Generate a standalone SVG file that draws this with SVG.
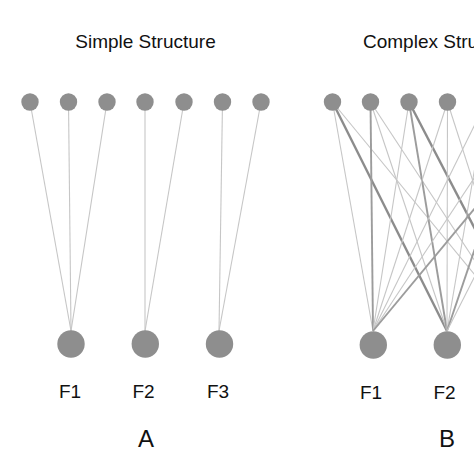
<svg xmlns="http://www.w3.org/2000/svg" width="474" height="474" viewBox="0 0 474 474">
<style>
.item{fill:#8e8e8e}
.fac{fill:#8e8e8e}
.thin{stroke:#c6c6c6;stroke-width:1.1;fill:none}
.thick{stroke:#8c8c8c;stroke-width:2.4;fill:none}
.med{stroke:#9c9c9c;stroke-width:1.9;fill:none}
.t{font-family:"Liberation Sans",Arial,sans-serif;fill:#111}
</style>
<rect width="474" height="474" fill="#fff"/>
<text class="t" x="145.5" y="47.5" font-size="19" text-anchor="middle">Simple Structure</text>
<text class="t" x="363" y="47.5" font-size="19">Complex Structure</text>
<g id="connectors">
  <g id="simple-edges">
    <line class="thin" x1="30" y1="102" x2="71" y2="331"/>
    <line class="thin" x1="68.5" y1="102" x2="71" y2="331"/>
    <line class="thin" x1="107" y1="102" x2="71" y2="331"/>
    <line class="thin" x1="145" y1="102" x2="145" y2="331"/>
    <line class="thin" x1="184" y1="102" x2="145" y2="331"/>
    <line class="thin" x1="222.5" y1="102" x2="219" y2="331"/>
    <line class="thin" x1="261" y1="102" x2="219" y2="331"/>
  </g>
  <g id="complex-edges">
    <line class="thin" x1="332.5" y1="102" x2="373" y2="331"/>
    <line class="thick" x1="332.5" y1="102" x2="447" y2="331"/>
    <line class="thin" x1="332.5" y1="102" x2="521" y2="331"/>
    <line class="med" x1="370.5" y1="102" x2="373" y2="331"/>
    <line class="thin" x1="370.5" y1="102" x2="447" y2="331"/>
    <line class="thin" x1="370.5" y1="102" x2="521" y2="331"/>
    <line class="thin" x1="409" y1="102" x2="373" y2="331"/>
    <line class="med" x1="409" y1="102" x2="447" y2="331"/>
    <line class="thick" x1="409" y1="102" x2="528" y2="331"/>
    <line class="thin" x1="447.5" y1="102" x2="373" y2="331"/>
    <line class="thin" x1="447.5" y1="102" x2="447" y2="331"/>
    <line class="thin" x1="447.5" y1="102" x2="521" y2="331"/>
    <line class="thin" x1="486" y1="102" x2="373" y2="331"/>
    <line class="thin" x1="486" y1="102" x2="447" y2="331"/>
    <line class="thin" x1="524.5" y1="102" x2="373" y2="331"/>
    <line class="med" x1="524.5" y1="102" x2="447" y2="331"/>
    <line class="med" x1="563" y1="102" x2="373" y2="331"/>
    <line class="thin" x1="563" y1="102" x2="447" y2="331"/>
  </g>
</g>
<g id="simple-items">
  <g id="s-i1"><circle class="item" cx="30" cy="102" r="8.7"/></g>
  <g id="s-i2"><circle class="item" cx="68.5" cy="102" r="8.7"/></g>
  <g id="s-i3"><circle class="item" cx="107" cy="102" r="8.7"/></g>
  <g id="s-i4"><circle class="item" cx="145" cy="102" r="8.7"/></g>
  <g id="s-i5"><circle class="item" cx="184" cy="102" r="8.7"/></g>
  <g id="s-i6"><circle class="item" cx="222.5" cy="102" r="8.7"/></g>
  <g id="s-i7"><circle class="item" cx="261" cy="102" r="8.7"/></g>
</g>
<g id="simple-factors">
  <g id="s-f1"><circle class="fac" cx="71" cy="344" r="13.7"/><text class="t" x="70" y="398" font-size="19" text-anchor="middle">F1</text></g>
  <g id="s-f2"><circle class="fac" cx="145.3" cy="344" r="13.7"/><text class="t" x="143.5" y="398" font-size="19" text-anchor="middle">F2</text></g>
  <g id="s-f3"><circle class="fac" cx="219.5" cy="344" r="13.7"/><text class="t" x="218" y="398" font-size="19" text-anchor="middle">F3</text></g>
</g>
<g id="complex-items">
  <g id="c-i1"><circle class="item" cx="332.5" cy="102" r="8.7"/></g>
  <g id="c-i2"><circle class="item" cx="370.5" cy="102" r="8.7"/></g>
  <g id="c-i3"><circle class="item" cx="409" cy="102" r="8.7"/></g>
  <g id="c-i4"><circle class="item" cx="447.5" cy="102" r="8.7"/></g>
</g>
<g id="complex-factors">
  <g id="c-f1"><circle class="fac" cx="373.3" cy="345" r="13.7"/><text class="t" x="371" y="399" font-size="19" text-anchor="middle">F1</text></g>
  <g id="c-f2"><circle class="fac" cx="447.3" cy="345" r="13.7"/><text class="t" x="444.5" y="399" font-size="19" text-anchor="middle">F2</text></g>
</g>
<text class="t" x="146" y="447" font-size="24" text-anchor="middle">A</text>
<text class="t" x="447" y="447" font-size="24" text-anchor="middle">B</text>
</svg>
